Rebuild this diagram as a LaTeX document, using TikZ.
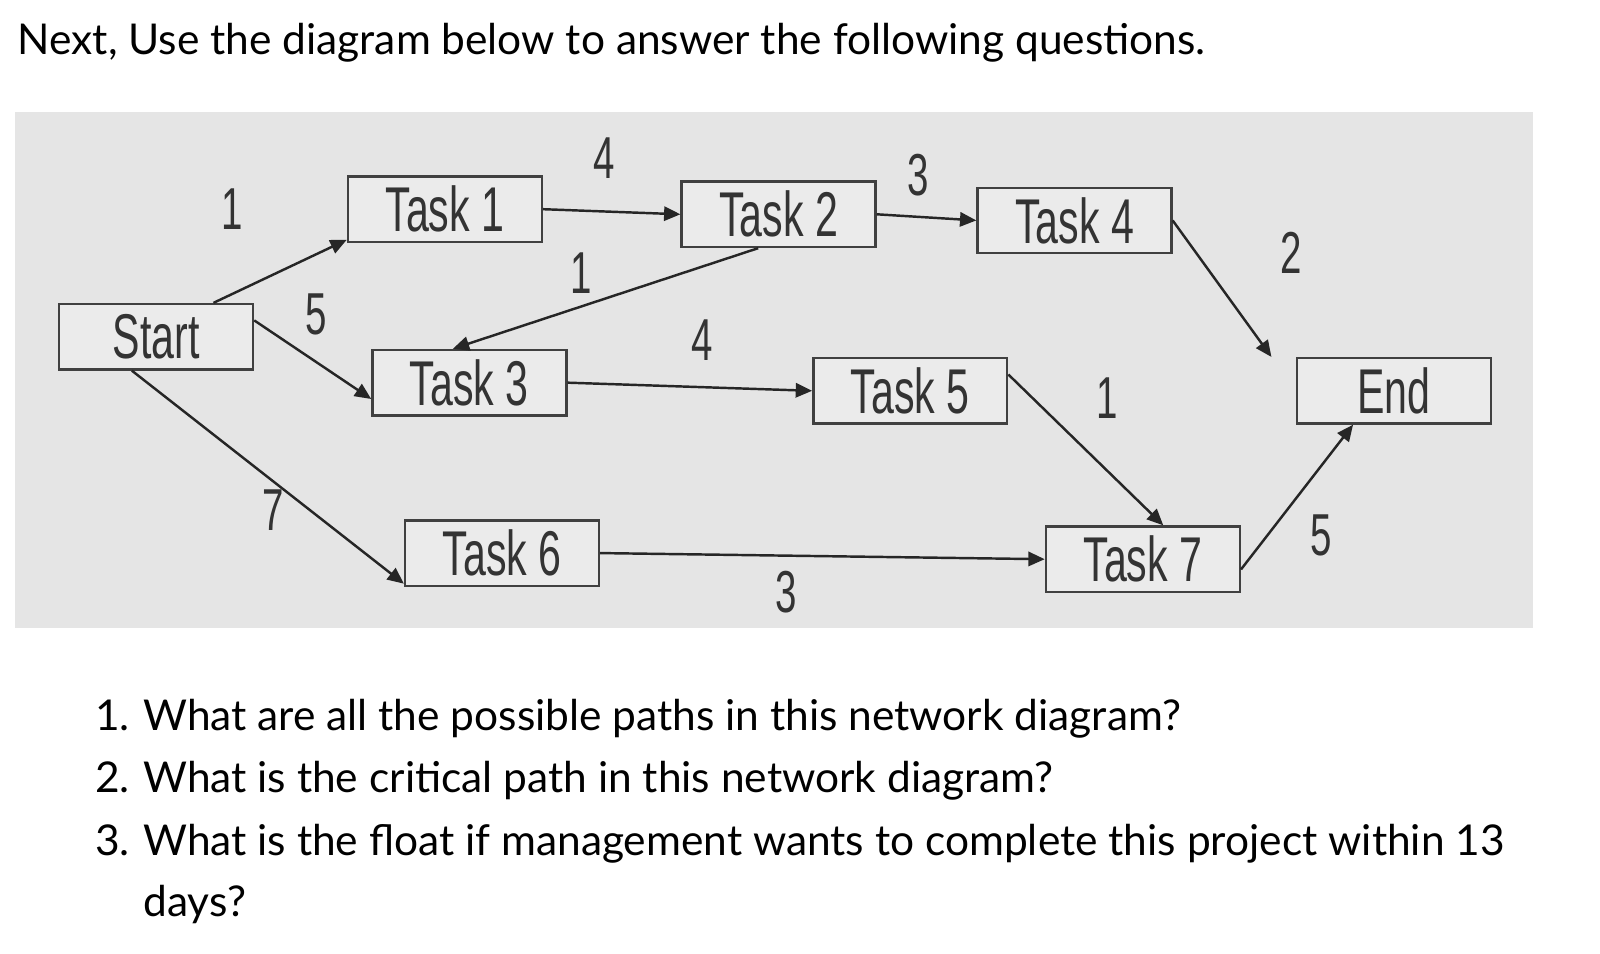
\documentclass[tikz,border=0pt]{standalone}
\usepackage{fontspec}
\setmainfont{Lato}
\newfontfamily\diag{Liberation Sans}
\usetikzlibrary{arrows.meta}
\begin{document}
\begin{tikzpicture}[x=0.5pt,y=-0.5pt,
  task/.style={draw=black!75,line width=1.2pt,fill=black!8,minimum width=95pt,minimum height=32pt,inner sep=0pt,font=\diag\fontsize{31}{31}\selectfont,text=black!80},
  lab/.style={font=\diag\fontsize{29}{29}\selectfont,text=black!80},
  edge/.style={draw=black!85,line width=1.2pt,-{Triangle[length=8pt,width=7pt]}},
  q/.style={anchor=base west,font=\fontsize{20.8}{24}\selectfont,inner sep=0pt}]
\useasboundingbox (0,0) rectangle (1568,934);
\fill[black!10] (15,110) rectangle (1502,615);
\node[q] (h) at (17,53) {Next, Use the diagram below to answer the following questions.};
\node[task] (start) at (153,330) {\scalebox{0.65}[1]{Start}};
\node[task] (t1) at (436,205) {\scalebox{0.65}[1]{Task 1}};
\node[task] (t2) at (763,210) {\scalebox{0.65}[1]{Task 2}};
\node[task] (t4) at (1053,216) {\scalebox{0.65}[1]{Task 4}};
\node[task] (t3) at (460,375) {\scalebox{0.65}[1]{Task 3}};
\node[task] (t5) at (892,383) {\scalebox{0.65}[1]{Task 5}};
\node[task] (end) at (1366,383) {\scalebox{0.65}[1]{End}};
\node[task] (t6) at (492,542) {\scalebox{0.65}[1]{Task 6}};
\node[task] (t7) at (1120,548) {\scalebox{0.65}[1]{Task 7}};
\draw[edge] ([xshift=-20]start.north east) -- ([yshift=-15]t1.west);
\draw[edge] ([yshift=8]start.east) -- ([yshift=-8]t3.west);
\draw[edge] ([xshift=-60]start.south east) -- ([yshift=-15]t6.west);
\draw[edge] (t1.east) -- (t2.west);
\draw[edge] ([xshift=-10]t2.south) -- ([xshift=40]t3.north west);
\draw[edge] (t2.east) -- (t4.west);
\draw[edge] (t3.east) -- (t5.west);
\draw[edge] (t4.east) -- ([xshift=-60]end.north);
\draw[edge] ([yshift=8]t5.east) -- ([xshift=10]t7.north);
\draw[edge] (t6.east) -- (t7.west);
\draw[edge] ([yshift=-5]t7.east) -- ([xshift=-20]end.south);
\node[lab] (l1) at (228,205) {\scalebox{0.65}[1]{1}};
\node[lab] (l2) at (310,308) {\scalebox{0.65}[1]{5}};
\node[lab] (l3) at (268,500) {\scalebox{0.65}[1]{7}};
\node[lab] (l4) at (592,155) {\scalebox{0.65}[1]{4}};
\node[lab] (l5) at (570,268) {\scalebox{0.65}[1]{1}};
\node[lab] (l6) at (900,172) {\scalebox{0.65}[1]{3}};
\node[lab] (l7) at (688,333) {\scalebox{0.65}[1]{4}};
\node[lab] (l8) at (1265,248) {\scalebox{0.65}[1]{2}};
\node[lab] (l9) at (1085,390) {\scalebox{0.65}[1]{1}};
\node[lab] (l10) at (770,580) {\scalebox{0.65}[1]{3}};
\node[lab] (l11) at (1295,525) {\scalebox{0.65}[1]{5}};
\node[q] (q1n) at (93,716) {1.};
\node[q] (q1) at (140,716) {What are all the possible paths in this network diagram?};
\node[q] (q2n) at (93,777) {2.};
\node[q] (q2) at (140,777) {What is the critical path in this network diagram?};
\node[q] (q3n) at (93,838) {3.};
\node[q] (q3) at (140,838) {What is the float if management wants to complete this project within 13};
\node[q] (q4) at (140,898) {days?};
\end{tikzpicture}
\end{document}
